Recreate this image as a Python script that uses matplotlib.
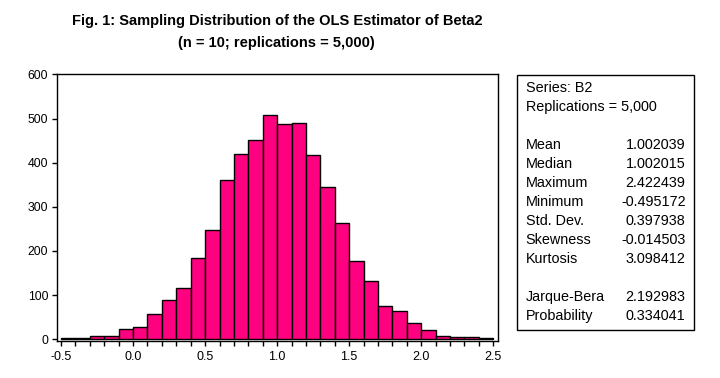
import numpy as np
import matplotlib.pyplot as plt
from matplotlib.patches import Rectangle
from matplotlib.ticker import MultipleLocator

plt.rcParams['font.family'] = ['Liberation Sans', 'DejaVu Sans']

# bins of width 0.1 from -0.5 to 2.5
bin_left = np.round(np.arange(-0.5, 2.45, 0.1), 1)
counts = [3, 3, 7, 7, 22, 27, 57, 88, 115, 184,
          247, 360, 419, 451, 508, 487, 490, 417, 345, 263,
          177, 132, 75, 64, 36, 20, 7, 5, 5, 3]

stat_names = ['Mean', 'Median', 'Maximum', 'Minimum', 'Std. Dev.', 'Skewness', 'Kurtosis']
stat_values = ['1.002039', '1.002015', '2.422439', '-0.495172', '0.397938', '-0.014503', '3.098412']
test_names = ['Jarque-Bera', 'Probability']
test_values = ['2.192983', '0.334041']

fig = plt.figure(figsize=(7.2, 3.78), dpi=100)
ax = fig.add_axes([0.0788, 0.0992, 0.6132, 0.7038])

ax.bar(bin_left, counts, width=0.1, align='edge', color='#FF0080',
       edgecolor='black', linewidth=1.0)

ax.set_xlim(-0.53, 2.535)
ax.set_ylim(-3, 600)
ax.xaxis.set_minor_locator(MultipleLocator(0.1))
ax.yaxis.set_major_locator(MultipleLocator(100))
ax.set_xticks([-0.5, 0.0, 0.5, 1.0, 1.5, 2.0, 2.5])
ax.set_xticklabels(['-0.5', '0.0', '0.5', '1.0', '1.5', '2.0', '2.5'])
ax.tick_params(axis='x', which='both', direction='out', length=3.6, width=1, labelsize=9, pad=4)
ax.tick_params(axis='y', direction='out', length=3.6, width=1, labelsize=8.8, pad=2.5)
for s in ax.spines.values():
    s.set_linewidth(1.0)

fig.text(0.3845, 0.944, 'Fig. 1: Sampling Distribution of the OLS Estimator of Beta2',
         ha='center', va='center', fontsize=10.5, fontweight='bold')
fig.text(0.3845, 0.886, '(n = 10; replications = 5,000)',
         ha='center', va='center', fontsize=10.5, fontweight='bold')

# stats box
fig.patches.append(Rectangle((517.3 / 720, 1 - 330 / 378), 177 / 720, 254.7 / 378,
                             transform=fig.transFigure, fill=False,
                             edgecolor='black', linewidth=1.0))
xl = 525.5 / 720
xr = 685.5 / 720
def yf(py):
    return 1 - py / 378

fs = 10.4
fig.text(xl, yf(88.5), 'Series: B2', ha='left', va='center', fontsize=fs)
fig.text(xl, yf(107), 'Replications = 5,000', ha='left', va='center', fontsize=fs)
for i, (n, v) in enumerate(zip(stat_names, stat_values)):
    y = yf(145 + 19 * i)
    fig.text(xl, y, n, ha='left', va='center', fontsize=fs)
    fig.text(xr, y, v, ha='right', va='center', fontsize=fs)
for i, (n, v) in enumerate(zip(test_names, test_values)):
    y = yf(297 + 19 * i)
    fig.text(xl, y, n, ha='left', va='center', fontsize=fs)
    fig.text(xr, y, v, ha='right', va='center', fontsize=fs)

fig.savefig('out.png', dpi=100)
